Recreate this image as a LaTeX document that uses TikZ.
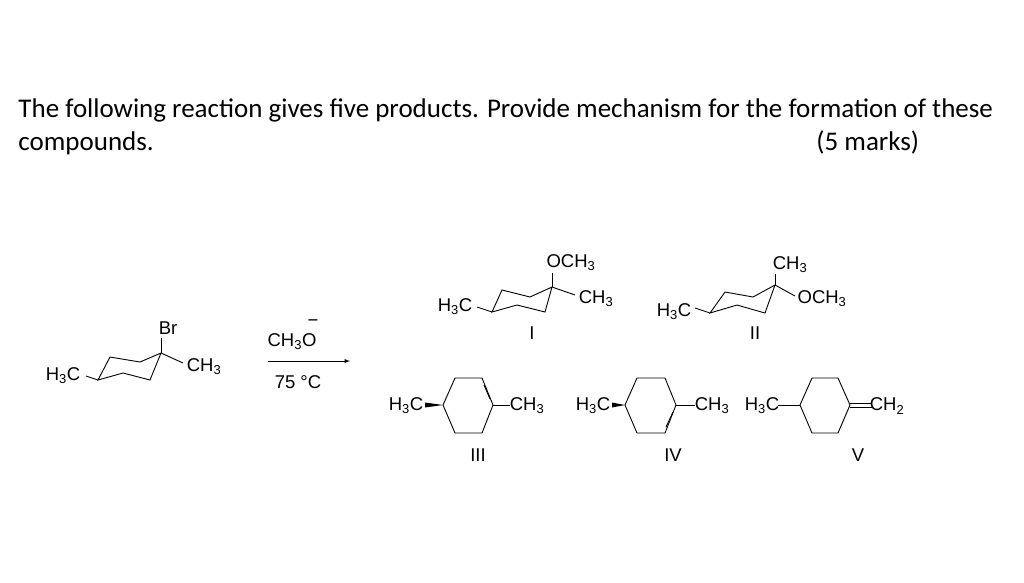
\documentclass[tikz,border=0pt]{standalone}
\usepackage{fontspec}
\setmainfont{Carlito}
\newfontfamily\chem{Liberation Sans}
\newcommand{\sbx}[1]{\textsubscript{#1}}
\begin{document}
\begin{tikzpicture}[x=1pt,y=-1pt,line width=0.9pt,
  lab/.style={font=\chem\fontsize{18.5}{22}\selectfont,inner sep=0pt},
  ttl/.style={font=\fontsize{27}{30}\selectfont,inner sep=0pt,anchor=base west}]
\useasboundingbox (0,0) rectangle (1024,582);
\node[ttl] (t1) at (18,117) {The following reaction gives five products. Provide mechanism for the formation of these};
\node[ttl] (t2) at (18,150) {compounds.};
\node[ttl] (t3) at (816,150) {(5 marks)};
% starting material
\draw (98,380)--(110,357)--(140,362)--(161,353)--(150,380)--(123,373)--cycle;
\draw (161,353)--(161,338);
\draw (161,353)--(183,363);
\draw (98,380)--(86,376);
\node[lab] (br) at (168,328) {Br};
\node[lab] (sm1) at (204,367) {CH\sbx{3}};
\node[lab] (sm2) at (63,376) {H\sbx{3}C};
% arrow
\coordinate (a1) at (268,361); \coordinate (a2) at (350,361);
\draw[-latex] (a1)--(a2);
\node[lab] (rg) at (292,342) {CH\sbx{3}O};
\node[lab] at (313,323) {\textminus};
\node[lab] (tc) at (298,382) {75 °C};
% I
\draw (492,312)--(502,290)--(530,297)--(552,287)--(545,312)--(517,305)--cycle;
\draw (552,287)--(552,273); \draw (552,287)--(575,295); \draw (492,312)--(477,307);
\node[lab] at (571,263) {OCH\sbx{3}};
\node[lab] at (596,299) {CH\sbx{3}};
\node[lab] at (455,307) {H\sbx{3}C};
\node[lab] at (532,333) {I};
% II
\draw (710,313)--(725,292)--(753,297)--(775,285)--(765,313)--(737,305)--cycle;
\draw (775,285)--(775,274); \draw (775,285)--(795,296); \draw (710,313)--(695,308);
\node[lab] at (790,265) {CH\sbx{3}};
\node[lab] at (822,299) {OCH\sbx{3}};
\node[lab] at (674,312) {H\sbx{3}C};
\node[lab] at (755,333) {II};
% III
\draw (443,405)--(455,378)--(482,378)--(493,405)--(482,433)--(455,433)--cycle;
\draw (484,385)--(490,399);
\fill (443,405)--(425,402.5)--(425,407.5)--cycle;
\draw (493,405)--(510,405);
\node[lab] at (406,406) {H\sbx{3}C};
\node[lab] at (527,406) {CH\sbx{3}};
\node[lab] at (478,455) {III};
% IV
\draw (625,405)--(637,378)--(665,378)--(676,405)--(665,433)--(637,433)--cycle;
\draw (673,412)--(666,427);
\fill (625,405)--(612,402.5)--(612,407.5)--cycle;
\draw (676,405)--(695,405);
\node[lab] at (593,406) {H\sbx{3}C};
\node[lab] at (712,406) {CH\sbx{3}};
\node[lab] at (673,455) {IV};
% V
\draw (800,405)--(812,378)--(838,378)--(850,405)--(838,433)--(812,433)--cycle;
\draw (778,405)--(800,405);
\draw (850,403)--(872,403); \draw (850,407)--(872,407);
\node[lab] at (762,406) {H\sbx{3}C};
\node[lab] at (887,406) {CH\sbx{2}};
\node[lab] at (858,455) {V};
\end{tikzpicture}
\end{document}
